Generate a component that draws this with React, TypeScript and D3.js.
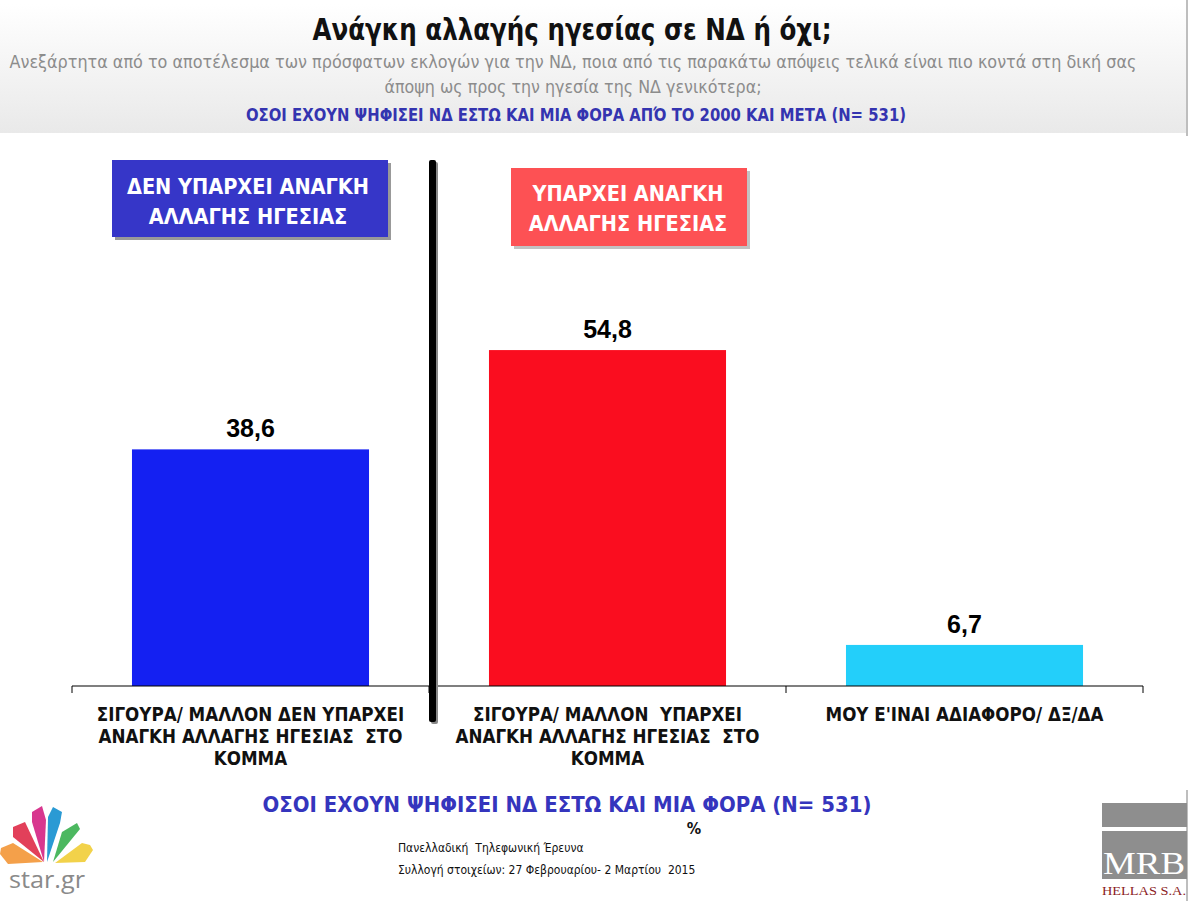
import React from "react";
import * as d3 from "d3";

const categories = ["c1", "c2", "c3"];
const categoryLines = [
  ["ΣΙΓΟΥΡΑ/ ΜΑΛΛΟΝ ΔΕΝ ΥΠΑΡΧΕΙ", "ΑΝΑΓΚΗ ΑΛΛΑΓΗΣ ΗΓΕΣΙΑΣ  ΣΤΟ", "ΚΟΜΜΑ"],
  ["ΣΙΓΟΥΡΑ/ ΜΑΛΛΟΝ  ΥΠΑΡΧΕΙ", "ΑΝΑΓΚΗ ΑΛΛΑΓΗΣ ΗΓΕΣΙΑΣ  ΣΤΟ", "ΚΟΜΜΑ"],
  ["ΜΟΥ Ε'ΙΝΑΙ ΑΔΙΑΦΟΡΟ/ ΔΞ/ΔΑ"],
];
const values = [38.6, 54.8, 6.7];
const barColors = ["#1420f2", "#fa0d1f", "#23cffa"];

const title = "Ανάγκη αλλαγής ηγεσίας σε ΝΔ ή όχι;";
const subtitleLines = [
  "Ανεξάρτητα από το αποτέλεσμα των πρόσφατων εκλογών για την ΝΔ, ποια από τις παρακάτω απόψεις τελικά είναι πιο κοντά στη δική σας",
  "άποψη ως προς την ηγεσία της ΝΔ γενικότερα;",
];
const baseLine = "ΟΣΟΙ ΕΧΟΥΝ ΨΗΦΙΣΕΙ ΝΔ ΕΣΤΩ ΚΑΙ ΜΙΑ ΦΟΡΑ ΑΠΌ ΤΟ 2000 ΚΑΙ ΜΕΤΑ (N= 531)";
const boxLabels = [
  ["ΔΕΝ ΥΠΑΡΧΕΙ ΑΝΑΓΚΗ", "ΑΛΛΑΓΗΣ ΗΓΕΣΙΑΣ"],
  ["ΥΠΑΡΧΕΙ ΑΝΑΓΚΗ", "ΑΛΛΑΓΗΣ ΗΓΕΣΙΑΣ"],
];
const footerBase = "ΟΣΟΙ ΕΧΟΥΝ ΨΗΦΙΣΕΙ ΝΔ ΕΣΤΩ ΚΑΙ ΜΙΑ ΦΟΡΑ (N= 531)";
const sourceLines = [
  "Πανελλαδική  Τηλεφωνική Έρευνα",
  "Συλλογή στοιχείων: 27 Φεβρουαρίου- 2 Μαρτίου  2015",
];

const NARROW = "'Liberation Sans Narrow', 'DejaVu Sans Condensed', 'Open Sans', sans-serif";
const PRE: React.CSSProperties = { whiteSpace: "pre" };

export default function App() {
  const W = 1199;
  const H = 901;
  const x = d3
    .scaleBand<string>()
    .domain(categories)
    .range([72, 1143])
    .paddingInner(0.336)
    .paddingOuter(0.168);
  const y = d3.scaleLinear().domain([0, 60]).range([686, 686 - 60 * 6.13]);
  const fmt = (v: number) => d3.format(".1f")(v).replace(".", ",");
  const step = x.step();
  const ticks = d3.range(categories.length + 1).map((i) => 72 + i * step);

  const petals: [string, string][] = [
    ["#f4a04a", "1,848 13,843 43,862 8,864 0,854"],
    ["#e2405a", "13,827 25,822 44,862 13,837"],
    ["#d8378f", "32,812 42,806 46,820 44,862 32,822"],
    ["#2a9ad4", "48,817 53,807 62,812 60,823 47,862"],
    ["#4cb860", "62,832 77,823 80,829 53,862"],
    ["#f2d24a", "82,843 90,845 93,850 85,862 55,863"],
  ];

  return (
    <svg
      width={W}
      height={H}
      style={{ position: "absolute", left: 0, top: 0, background: "#fff" }}
    >
      <defs>
        <linearGradient id="hdr" x1="0" y1="0" x2="0" y2="1">
          <stop offset="0" stopColor="#ffffff" />
          <stop offset="1" stopColor="#e9e9e9" />
        </linearGradient>
      </defs>
      <rect x={0} y={0} width={W} height={H} fill="#fff" />
      <rect x={0} y={4} width={1186} height={129} fill="url(#hdr)" />
      <line x1={1187} y1={0} x2={1187} y2={136} stroke="#a8a8a8" strokeWidth={1.5} />
      <line x1={1187} y1={790} x2={1187} y2={901} stroke="#a8a8a8" strokeWidth={1.5} />

      <text x={572} y={40} textAnchor="middle" fontFamily={NARROW} fontWeight="bold" fontSize={30} fill="#111" textLength={519} lengthAdjust="spacingAndGlyphs">
        {title}
      </text>
      <text x={573} y={68} textAnchor="middle" fontFamily={NARROW} fontSize={17} fill="#8c8c8c" textLength={1127} lengthAdjust="spacingAndGlyphs">
        {subtitleLines[0]}
      </text>
      <text x={573} y={93} textAnchor="middle" fontFamily={NARROW} fontSize={17} fill="#8c8c8c" textLength={377} lengthAdjust="spacingAndGlyphs">
        {subtitleLines[1]}
      </text>
      <text x={576} y={121} textAnchor="middle" fontFamily={NARROW} fontWeight="bold" fontSize={17} fill="#3434b0" textLength={660} lengthAdjust="spacingAndGlyphs">
        {baseLine}
      </text>

      {/* bars */}
      {categories.map((c, i) => (
        <g key={c}>
          <rect x={x(c)} y={y(values[i])} width={x.bandwidth()} height={y(0) - y(values[i])} fill={barColors[i]} />
          <text
            x={(x(c) as number) + x.bandwidth() / 2}
            y={y(values[i]) - 12}
            textAnchor="middle"
            fontFamily="'Liberation Sans', Arial, sans-serif"
            fontWeight="bold"
            fontSize={25}
            fill="#000"
          >
            {fmt(values[i])}
          </text>
          {categoryLines[i].map((ln, j) => (
            <text
              key={j}
              x={(x(c) as number) + x.bandwidth() / 2}
              y={721 + j * 22}
              textAnchor="middle"
              fontFamily={NARROW}
              fontWeight="bold"
              fontSize={18.6}
              fill="#111"
              style={PRE}
            >
              {ln}
            </text>
          ))}
        </g>
      ))}

      {/* axis */}
      <line x1={72} y1={686} x2={1143} y2={686} stroke="#000" strokeWidth={1.2} />
      {ticks.map((t, i) => (
        <line key={i} x1={t} y1={686} x2={t} y2={693} stroke="#000" strokeWidth={1} />
      ))}

      {/* divider */}
      <rect x={431} y={162} width={7} height={562} fill="#888" rx={2} />
      <rect x={429} y={160} width={7} height={562} fill="#000" rx={2} />

      {/* box 1 */}
      <rect x={115} y={163} width={276} height={77} fill="#555" opacity={0.6} />
      <rect x={112} y={160} width={276} height={77} fill="#3636c8" />
      {boxLabels[0].map((ln, j) => (
        <text key={j} x={248} y={194 + j * 30} textAnchor="middle" fontFamily={NARROW} fontWeight="bold" fontSize={21.5} fill="#fff">
          {ln}
        </text>
      ))}
      {/* box 2 */}
      <rect x={514} y={171} width={236} height={78} fill="#999" opacity={0.6} />
      <rect x={511} y={168} width={236} height={78} fill="#fd5154" />
      {boxLabels[1].map((ln, j) => (
        <text key={j} x={628} y={201 + j * 30} textAnchor="middle" fontFamily={NARROW} fontWeight="bold" fontSize={21.5} fill="#fff">
          {ln}
        </text>
      ))}

      {/* footer */}
      <text x={567} y={812} textAnchor="middle" fontFamily={NARROW} fontWeight="bold" fontSize={22} fill="#3535bd" textLength={609} lengthAdjust="spacingAndGlyphs">
        {footerBase}
      </text>
      <text x={694} y={834} textAnchor="middle" fontFamily={NARROW} fontWeight="bold" fontSize={16} fill="#111">
        %
      </text>
      <text x={398} y={852} fontFamily={NARROW} fontSize={12} fill="#111" style={PRE}>
        {sourceLines[0]}
      </text>
      <text x={398} y={874} fontFamily={NARROW} fontSize={12} fill="#111" style={PRE}>
        {sourceLines[1]}
      </text>

      {/* star.gr logo */}
      {petals.map(([col, pts], i) => (
        <polygon key={i} points={pts} fill={col} />
      ))}
      <text x={9} y={888} fontFamily="'Open Sans', 'DejaVu Sans', sans-serif" fontSize={24} fill="#8a8a8a" textLength={76} lengthAdjust="spacingAndGlyphs">
        star.gr
      </text>

      {/* MRB logo */}
      <rect x={1102} y={803} width={85} height={24} fill="#8e8e8e" />
      <rect x={1102} y={831} width={85} height={48} fill="#8e8e8e" />
      <text x={1144} y={874} textAnchor="middle" fontFamily="'Liberation Serif', 'DejaVu Serif', serif" fontSize={32} fill="#fff" textLength={82} lengthAdjust="spacingAndGlyphs">
        MRB
      </text>
      <text x={1144} y={895} textAnchor="middle" fontFamily="'Liberation Serif', 'DejaVu Serif', serif" fontSize={13} fill="#8b1c24" textLength={84} lengthAdjust="spacingAndGlyphs">
        HELLAS S.A.
      </text>
    </svg>
  );
}
